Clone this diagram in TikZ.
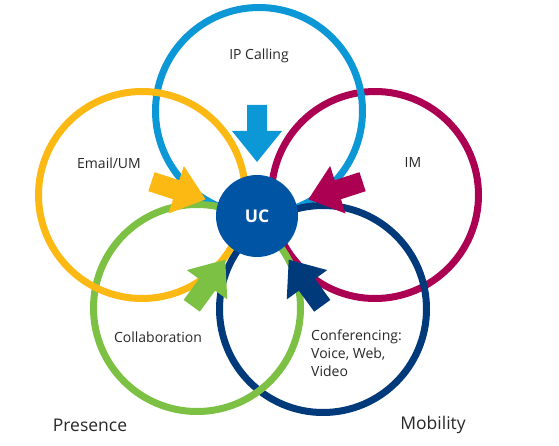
\documentclass[tikz,border=0pt]{standalone}
\usepackage{fontspec}
\setmainfont{Open Sans}
\definecolor{callblue}{RGB}{12,152,214}
\definecolor{mailyellow}{RGB}{253,185,19}
\definecolor{imred}{RGB}{172,0,82}
\definecolor{collgreen}{RGB}{124,193,67}
\definecolor{confnavy}{RGB}{0,58,122}
\definecolor{ucblue}{RGB}{0,84,164}
\definecolor{textgray}{RGB}{40,40,40}
\begin{document}
\begin{tikzpicture}[x=1pt, y=1pt,
    ring/.style={line width=7pt},
    ringtext/.style={text=textgray, inner sep=0pt, font=\fontsize{14}{18}\selectfont},
    cornertext/.style={text=textgray, inner sep=0pt, font=\fontsize{17.5}{20}\selectfont}]
        \useasboundingbox (0,0) rectangle (559,445);

        % Cerchi
        \draw[ring, imred] (375,250) circle (103.5pt);
        \draw[ring, callblue] (259,334) circle (103.5pt);
        \draw[ring, confnavy] (323,136) circle (103.5pt);
        \draw[ring, collgreen] (197,137) circle (103.5pt);
        \draw[ring, mailyellow] (142,250) circle (103.5pt);

        % Frecce verso il centro
        \coordinate (ucc) at (257,229);
        \fill[callblue, shift={(ucc)}, rotate=90] (54,0) -- (85,25) -- (85,10) -- (111,10) -- (111,-10) -- (85,-10) -- (85,-25) -- cycle;
        \fill[mailyellow, shift={(ucc)}, rotate=162] (54,0) -- (85,25) -- (85,10) -- (111,10) -- (111,-10) -- (85,-10) -- (85,-25) -- cycle;
        \fill[imred, shift={(ucc)}, rotate=18] (54,0) -- (85,25) -- (85,10) -- (111,10) -- (111,-10) -- (85,-10) -- (85,-25) -- cycle;
        \fill[collgreen, shift={(ucc)}, rotate=234] (54,0) -- (85,25) -- (85,10) -- (111,10) -- (111,-10) -- (85,-10) -- (85,-25) -- cycle;
        \fill[confnavy, shift={(ucc)}, rotate=306] (54,0) -- (85,25) -- (85,10) -- (111,10) -- (111,-10) -- (85,-10) -- (85,-25) -- cycle;

        % Centro
        \node[circle, fill=ucblue, minimum size=82pt, inner sep=0pt, text=white, font=\bfseries\fontsize{17.5}{20}\selectfont] (uc) at (ucc) {UC};

        % Etichette
        \node[ringtext] (ipcall) at (259,389) {IP Calling};
        \node[ringtext] (email) at (109,282) {Email/UM};
        \node[ringtext] (im) at (413,282) {IM};
        \node[ringtext] (collab) at (158,108) {Collaboration};
        \node[ringtext, anchor=north west, align=left] (conf) at (311,115) {Conferencing:\\Voice, Web,\\Video};

        \node[cornertext] (presence) at (90,20) {Presence};
        \node[cornertext] (mobility) at (433,20) {Mobility};

    \end{tikzpicture}
\end{document}
